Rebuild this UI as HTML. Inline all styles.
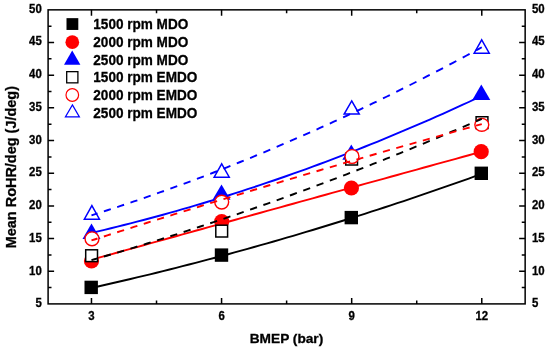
<!DOCTYPE html>
<html><head><meta charset="utf-8"><title>chart</title><style>html,body{margin:0;padding:0;background:#fff}body{width:550px;height:353px;overflow:hidden}</style></head><body>
<svg width="550" height="353" viewBox="0 0 550 353" style="display:block;font-family:'Liberation Sans',Arial,sans-serif;font-weight:bold">
<rect width="550" height="353" fill="#fff"/>
<rect x="84.50" y="280.70" width="13.4" height="13.4" fill="#000000" stroke="none" stroke-width="0"/>
<rect x="214.80" y="248.40" width="13.4" height="13.4" fill="#000000" stroke="none" stroke-width="0"/>
<rect x="344.60" y="210.90" width="13.4" height="13.4" fill="#000000" stroke="none" stroke-width="0"/>
<rect x="474.60" y="166.60" width="13.4" height="13.4" fill="#000000" stroke="none" stroke-width="0"/>
<path d="M91.47,287.95 L97.97,286.49 L104.48,285.02 L110.98,283.53 L117.49,282.03 L123.99,280.52 L130.50,278.99 L137.00,277.44 L143.51,275.88 L150.02,274.30 L156.52,272.71 L163.03,271.10 L169.53,269.48 L176.04,267.85 L182.54,266.19 L189.05,264.53 L195.55,262.85 L202.06,261.15 L208.56,259.44 L215.07,257.71 L221.57,255.97 L228.08,254.21 L234.58,252.43 L241.09,250.65 L247.59,248.84 L254.10,247.02 L260.60,245.19 L267.11,243.34 L273.61,241.48 L280.12,239.60 L286.62,237.71 L293.13,235.80 L299.64,233.87 L306.14,231.93 L312.65,229.98 L319.15,228.01 L325.66,226.03 L332.16,224.03 L338.67,222.01 L345.17,219.98 L351.68,217.94 L358.18,215.87 L364.69,213.80 L371.19,211.71 L377.70,209.60 L384.20,207.48 L390.71,205.35 L397.21,203.20 L403.72,201.03 L410.22,198.85 L416.73,196.65 L423.23,194.44 L429.74,192.21 L436.25,189.97 L442.75,187.71 L449.26,185.44 L455.76,183.16 L462.27,180.85 L468.77,178.54 L475.28,176.20 L481.78,173.86" fill="none" stroke="#000000" stroke-width="1.9"/>
<ellipse cx="91.50" cy="261.00" rx="7.6" ry="7.6" fill="#ff0000" stroke="none" stroke-width="0"/>
<ellipse cx="221.70" cy="221.60" rx="7.6" ry="7.6" fill="#ff0000" stroke="none" stroke-width="0"/>
<ellipse cx="351.40" cy="188.00" rx="7.6" ry="7.6" fill="#ff0000" stroke="none" stroke-width="0"/>
<ellipse cx="481.20" cy="151.70" rx="7.6" ry="7.6" fill="#ff0000" stroke="none" stroke-width="0"/>
<path d="M91.47,259.74 L97.97,257.93 L104.48,256.12 L110.98,254.31 L117.49,252.50 L123.99,250.69 L130.50,248.88 L137.00,247.06 L143.51,245.25 L150.02,243.45 L156.52,241.64 L163.03,239.83 L169.53,238.02 L176.04,236.21 L182.54,234.40 L189.05,232.60 L195.55,230.79 L202.06,228.98 L208.56,227.18 L215.07,225.37 L221.57,223.56 L228.08,221.76 L234.58,219.96 L241.09,218.15 L247.59,216.35 L254.10,214.54 L260.60,212.74 L267.11,210.94 L273.61,209.13 L280.12,207.33 L286.62,205.53 L293.13,203.73 L299.64,201.93 L306.14,200.13 L312.65,198.33 L319.15,196.53 L325.66,194.73 L332.16,192.93 L338.67,191.13 L345.17,189.33 L351.68,187.54 L358.18,185.74 L364.69,183.94 L371.19,182.14 L377.70,180.35 L384.20,178.55 L390.71,176.76 L397.21,174.96 L403.72,173.17 L410.22,171.37 L416.73,169.58 L423.23,167.78 L429.74,165.99 L436.25,164.20 L442.75,162.40 L449.26,160.61 L455.76,158.82 L462.27,157.03 L468.77,155.24 L475.28,153.45 L481.78,151.66" fill="none" stroke="#ff0000" stroke-width="1.9"/>
<path d="M91.50,223.40 L100.50,238.90 L82.50,238.90 Z" fill="#0000ff" stroke="none" stroke-width="0" stroke-linejoin="miter"/>
<path d="M221.50,184.50 L230.50,199.70 L212.50,199.70 Z" fill="#0000ff" stroke="none" stroke-width="0" stroke-linejoin="miter"/>
<path d="M351.30,144.60 L360.30,159.80 L342.30,159.80 Z" fill="#0000ff" stroke="none" stroke-width="0" stroke-linejoin="miter"/>
<path d="M481.30,84.60 L490.30,100.10 L472.30,100.10 Z" fill="#0000ff" stroke="none" stroke-width="0" stroke-linejoin="miter"/>
<path d="M91.47,232.88 L97.97,231.36 L104.48,229.81 L110.98,228.23 L117.49,226.63 L123.99,225.01 L130.50,223.35 L137.00,221.68 L143.51,219.97 L150.02,218.24 L156.52,216.49 L163.03,214.71 L169.53,212.90 L176.04,211.07 L182.54,209.21 L189.05,207.33 L195.55,205.42 L202.06,203.49 L208.56,201.53 L215.07,199.54 L221.57,197.53 L228.08,195.49 L234.58,193.42 L241.09,191.34 L247.59,189.22 L254.10,187.08 L260.60,184.91 L267.11,182.72 L273.61,180.50 L280.12,178.26 L286.62,175.99 L293.13,173.69 L299.64,171.37 L306.14,169.03 L312.65,166.65 L319.15,164.26 L325.66,161.83 L332.16,159.38 L338.67,156.91 L345.17,154.40 L351.68,151.88 L358.18,149.33 L364.69,146.75 L371.19,144.14 L377.70,141.51 L384.20,138.86 L390.71,136.18 L397.21,133.47 L403.72,130.74 L410.22,127.98 L416.73,125.19 L423.23,122.38 L429.74,119.55 L436.25,116.69 L442.75,113.80 L449.26,110.89 L455.76,107.95 L462.27,104.98 L468.77,101.99 L475.28,98.98 L481.78,95.93" fill="none" stroke="#0000ff" stroke-width="1.9"/>
<rect x="85.70" y="249.80" width="11.8" height="11.8" fill="#fff" stroke="#000000" stroke-width="1.5"/>
<rect x="215.80" y="225.20" width="11.8" height="11.8" fill="#fff" stroke="#000000" stroke-width="1.5"/>
<rect x="345.70" y="153.20" width="11.8" height="11.8" fill="#fff" stroke="#000000" stroke-width="1.5"/>
<rect x="476.10" y="116.75" width="11.8" height="11.8" fill="#fff" stroke="#000000" stroke-width="1.5"/>
<ellipse cx="92.00" cy="238.80" rx="6.95" ry="6.9" fill="#fff" stroke="#ff0000" stroke-width="1.4"/>
<ellipse cx="221.70" cy="202.10" rx="6.95" ry="6.9" fill="#fff" stroke="#ff0000" stroke-width="1.4"/>
<ellipse cx="352.00" cy="156.50" rx="6.95" ry="6.9" fill="#fff" stroke="#ff0000" stroke-width="1.4"/>
<ellipse cx="481.80" cy="124.85" rx="6.95" ry="6.45" fill="#fff" stroke="#ff0000" stroke-width="1.4"/>
<path d="M91.90,205.60 L99.45,219.15 L84.35,219.15 Z" fill="#fff" stroke="#0000ff" stroke-width="1.5" stroke-linejoin="miter"/>
<path d="M221.70,163.85 L229.25,177.15 L214.15,177.15 Z" fill="#fff" stroke="#0000ff" stroke-width="1.5" stroke-linejoin="miter"/>
<path d="M351.70,100.95 L359.25,114.05 L344.15,114.05 Z" fill="#fff" stroke="#0000ff" stroke-width="1.5" stroke-linejoin="miter"/>
<path d="M481.70,39.85 L489.25,53.25 L474.15,53.25 Z" fill="#fff" stroke="#0000ff" stroke-width="1.5" stroke-linejoin="miter"/>
<path d="M91.47,260.14 L94.48,259.27 L97.50,258.39 M103.89,256.53 L107.34,255.52 L110.79,254.50 M117.18,252.61 L120.63,251.58 L124.08,250.54 M130.47,248.62 L133.92,247.57 L137.37,246.52 M143.76,244.56 L147.21,243.49 L150.66,242.43 M157.05,240.43 L160.50,239.35 L163.95,238.27 M170.34,236.24 L173.79,235.14 L177.24,234.04 M183.63,231.98 L187.08,230.87 L190.53,229.75 M196.92,227.66 L200.37,226.52 L203.82,225.38 M210.21,223.26 L213.66,222.11 L217.11,220.96 M223.50,218.80 L226.95,217.63 L230.40,216.46 M236.79,214.28 L240.24,213.09 L243.69,211.90 M250.08,209.68 L253.53,208.48 L256.98,207.27 M263.37,205.02 L266.82,203.80 L270.27,202.57 M276.66,200.29 L280.11,199.05 L283.56,197.81 M289.95,195.49 L293.40,194.24 L296.85,192.98 M303.24,190.63 L306.69,189.36 L310.14,188.08 M316.53,185.70 L319.98,184.41 L323.43,183.11 M329.82,180.70 L333.27,179.39 L336.72,178.08 M343.11,175.64 L346.56,174.31 L350.01,172.98 M356.40,170.50 L359.85,169.16 L363.30,167.81 M369.69,165.30 L373.14,163.94 L376.59,162.58 M382.98,160.04 L386.43,158.66 L389.88,157.28 M396.27,154.70 L399.72,153.31 L403.17,151.91 M409.56,149.30 L413.01,147.89 L416.46,146.47 M422.85,143.83 L426.30,142.40 L429.75,140.97 M436.14,138.30 L439.59,136.85 L443.04,135.40 M449.43,132.70 L452.88,131.23 L456.33,129.76 M462.72,127.03 L466.17,125.54 L469.62,124.06 M476.01,121.29 L478.90,120.03 L481.78,118.78" fill="none" stroke="#000000" stroke-width="1.9"/>
<path d="M91.47,240.45 L94.48,239.48 L97.50,238.52 M103.89,236.48 L107.34,235.38 L110.79,234.28 M117.18,232.25 L120.63,231.16 L124.08,230.06 M130.47,228.04 L133.92,226.95 L137.37,225.86 M143.76,223.85 L147.21,222.77 L150.66,221.69 M157.05,219.68 L160.50,218.61 L163.95,217.53 M170.34,215.54 L173.79,214.46 L177.24,213.39 M183.63,211.41 L187.08,210.34 L190.53,209.27 M196.92,207.30 L200.37,206.24 L203.82,205.18 M210.21,203.21 L213.66,202.15 L217.11,201.10 M223.50,199.14 L226.95,198.09 L230.40,197.04 M236.79,195.10 L240.24,194.05 L243.69,193.00 M250.08,191.07 L253.53,190.03 L256.98,188.99 M263.37,187.06 L266.82,186.03 L270.27,184.99 M276.66,183.08 L280.11,182.04 L283.56,181.01 M289.95,179.11 L293.40,178.08 L296.85,177.06 M303.24,175.16 L306.69,174.14 L310.14,173.12 M316.53,171.24 L319.98,170.22 L323.43,169.21 M329.82,167.33 L333.27,166.32 L336.72,165.31 M343.11,163.44 L346.56,162.44 L350.01,161.43 M356.40,159.58 L359.85,158.58 L363.30,157.58 M369.69,155.73 L373.14,154.74 L376.59,153.74 M382.98,151.91 L386.43,150.92 L389.88,149.93 M396.27,148.10 L399.72,147.12 L403.17,146.13 M409.56,144.32 L413.01,143.34 L416.46,142.36 M422.85,140.55 L426.30,139.58 L429.75,138.61 M436.14,136.81 L439.59,135.84 L443.04,134.87 M449.43,133.08 L452.88,132.12 L456.33,131.16 M462.72,129.38 L466.17,128.42 L469.62,127.46 M476.01,125.69 L478.90,124.90 L481.78,124.10" fill="none" stroke="#ff0000" stroke-width="1.9"/>
<path d="M91.47,215.32 L94.48,214.37 L97.50,213.41 M103.89,211.37 L107.34,210.26 L110.79,209.14 M117.18,207.05 L120.63,205.91 L124.08,204.76 M130.47,202.62 L133.92,201.45 L137.37,200.28 M143.76,198.08 L147.21,196.89 L150.66,195.69 M157.05,193.44 L160.50,192.22 L163.95,190.99 M170.34,188.70 L173.79,187.45 L177.24,186.19 M183.63,183.85 L187.08,182.57 L190.53,181.29 M196.92,178.89 L200.37,177.59 L203.82,176.27 M210.21,173.83 L213.66,172.50 L217.11,171.16 M223.50,168.66 L226.95,167.30 L230.40,165.94 M236.79,163.39 L240.24,162.00 L243.69,160.61 M250.08,158.01 L253.53,156.59 L256.98,155.17 M263.37,152.52 L266.82,151.08 L270.27,149.64 M276.66,146.93 L280.11,145.47 L283.56,143.99 M289.95,141.24 L293.40,139.74 L296.85,138.24 M303.24,135.44 L306.69,133.92 L310.14,132.39 M316.53,129.53 L319.98,127.98 L323.43,126.43 M329.82,123.52 L333.27,121.94 L336.72,120.36 M343.11,117.41 L346.56,115.80 L350.01,114.19 M356.40,111.18 L359.85,109.55 L363.30,107.91 M369.69,104.86 L373.14,103.20 L376.59,101.53 M382.98,98.42 L386.43,96.74 L389.88,95.04 M396.27,91.88 L399.72,90.17 L403.17,88.45 M409.56,85.24 L413.01,83.50 L416.46,81.75 M422.85,78.49 L426.30,76.72 L429.75,74.94 M436.14,71.64 L439.59,69.84 L443.04,68.04 M449.43,64.68 L452.88,62.85 L456.33,61.02 M462.72,57.61 L466.17,55.76 L469.62,53.90 M476.01,50.44 L478.90,48.87 L481.78,47.29" fill="none" stroke="#0000ff" stroke-width="1.9"/>
<rect x="48.1" y="9.85" width="477.04999999999995" height="294.04999999999995" fill="none" stroke="#000" stroke-width="1.5"/>
<path d="M48.1,287.56h3.4 M525.15,287.56h-3.4 M48.1,271.23h6.0 M525.15,271.23h-6.0 M48.1,254.89h3.4 M525.15,254.89h-3.4 M48.1,238.56h6.0 M525.15,238.56h-6.0 M48.1,222.22h3.4 M525.15,222.22h-3.4 M48.1,205.88h6.0 M525.15,205.88h-6.0 M48.1,189.55h3.4 M525.15,189.55h-3.4 M48.1,173.21h6.0 M525.15,173.21h-6.0 M48.1,156.88h3.4 M525.15,156.88h-3.4 M48.1,140.54h6.0 M525.15,140.54h-6.0 M48.1,124.20h3.4 M525.15,124.20h-3.4 M48.1,107.87h6.0 M525.15,107.87h-6.0 M48.1,91.53h3.4 M525.15,91.53h-3.4 M48.1,75.19h6.0 M525.15,75.19h-6.0 M48.1,58.86h3.4 M525.15,58.86h-3.4 M48.1,42.52h6.0 M525.15,42.52h-6.0 M48.1,26.19h3.4 M525.15,26.19h-3.4 M91.47,303.9v-6.0 M91.47,9.85v6.0 M156.52,303.9v-3.4 M156.52,9.85v3.4 M221.57,303.9v-6.0 M221.57,9.85v6.0 M286.62,303.9v-3.4 M286.62,9.85v3.4 M351.68,303.9v-6.0 M351.68,9.85v6.0 M416.73,303.9v-3.4 M416.73,9.85v3.4 M481.78,303.9v-6.0 M481.78,9.85v6.0" stroke="#000" stroke-width="1.5" fill="none"/>
<g font-size="12.3" fill="#000" stroke="#000" stroke-width="0.3">
<text transform="translate(41.8,307.30) scale(0.93,1)" text-anchor="end">5</text>
<text transform="translate(531.9,307.30) scale(0.93,1)">5</text>
<text transform="translate(41.8,274.55) scale(0.93,1)" text-anchor="end">10</text>
<text transform="translate(531.9,274.55) scale(0.93,1)">10</text>
<text transform="translate(41.8,241.81) scale(0.93,1)" text-anchor="end">15</text>
<text transform="translate(531.9,241.81) scale(0.93,1)">15</text>
<text transform="translate(41.8,209.06) scale(0.93,1)" text-anchor="end">20</text>
<text transform="translate(531.9,209.06) scale(0.93,1)">20</text>
<text transform="translate(41.8,176.31) scale(0.93,1)" text-anchor="end">25</text>
<text transform="translate(531.9,176.31) scale(0.93,1)">25</text>
<text transform="translate(41.8,143.56) scale(0.93,1)" text-anchor="end">30</text>
<text transform="translate(531.9,143.56) scale(0.93,1)">30</text>
<text transform="translate(41.8,110.82) scale(0.93,1)" text-anchor="end">35</text>
<text transform="translate(531.9,110.82) scale(0.93,1)">35</text>
<text transform="translate(41.8,78.07) scale(0.93,1)" text-anchor="end">40</text>
<text transform="translate(531.9,78.07) scale(0.93,1)">40</text>
<text transform="translate(41.8,45.32) scale(0.93,1)" text-anchor="end">45</text>
<text transform="translate(531.9,45.32) scale(0.93,1)">45</text>
<text transform="translate(41.8,12.58) scale(0.93,1)" text-anchor="end">50</text>
<text transform="translate(531.9,12.58) scale(0.93,1)">50</text>
<text transform="translate(91.47,319.8) scale(0.93,1)" text-anchor="middle">3</text>
<text transform="translate(221.57,319.8) scale(0.93,1)" text-anchor="middle">6</text>
<text transform="translate(351.68,319.8) scale(0.93,1)" text-anchor="middle">9</text>
<text transform="translate(481.78,319.8) scale(0.93,1)" text-anchor="middle">12</text>
</g>
<text x="286.5" y="343.1" font-size="13.7" stroke="#000" stroke-width="0.3" text-anchor="middle">BMEP (bar)</text>
<text transform="translate(15.9,167.15) rotate(-90) scale(0.984,1)" font-size="14.7" stroke="#000" stroke-width="0.3" text-anchor="middle">Mean RoHR/deg (J/deg)</text>
<rect x="66.50" y="18.15" width="11.8" height="11.8" fill="#000000" stroke="none" stroke-width="0"/>
<ellipse cx="72.30" cy="42.20" rx="6.85" ry="6.85" fill="#ff0000" stroke="none" stroke-width="0"/>
<path d="M72.20,50.60 L80.40,64.70 L64.00,64.70 Z" fill="#0000ff" stroke="none" stroke-width="0" stroke-linejoin="miter"/>
<rect x="66.70" y="71.65" width="11.2" height="11.2" fill="#fff" stroke="#000000" stroke-width="1.3"/>
<ellipse cx="72.30" cy="95.00" rx="6.3" ry="6.3" fill="#fff" stroke="#ff0000" stroke-width="1.2"/>
<path d="M72.40,104.90 L79.40,116.90 L65.40,116.90 Z" fill="#fff" stroke="#0000ff" stroke-width="1.2" stroke-linejoin="miter"/>
<g font-size="14.6" fill="#000" stroke="#000" stroke-width="0.3">
<text transform="translate(93.3,29.25) scale(0.93,1)">1500 rpm MDO</text>
<text transform="translate(93.3,46.95) scale(0.93,1)">2000 rpm MDO</text>
<text transform="translate(93.3,64.65) scale(0.93,1)">2500 rpm MDO</text>
<text transform="translate(93.3,82.35) scale(0.93,1)">1500 rpm EMDO</text>
<text transform="translate(93.3,100.05) scale(0.93,1)">2000 rpm EMDO</text>
<text transform="translate(93.3,117.75) scale(0.93,1)">2500 rpm EMDO</text>
</g>
</svg>
</body></html>
